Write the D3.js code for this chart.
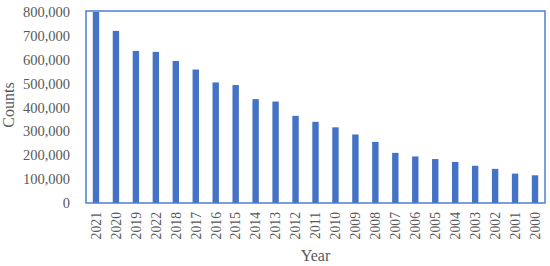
<!DOCTYPE html>
<html>
<head>
<meta charset="utf-8">
<script src="https://cdn.jsdelivr.net/npm/d3@7"></script>
<style>
    body { margin: 0; background: #fff; }
    text { font-family: "Liberation Serif", "Times New Roman", serif; fill: #595959; }
</style>
</head>
<body>
<div id="chart"></div>
<script>
// years in the order shown (sorted by count)
const years = ["2021", "2020", "2019", "2022", "2018", "2017", "2016", "2015", "2014", "2013", "2012",
    "2011", "2010", "2009", "2008", "2007", "2006", "2005", "2004", "2003", "2002", "2001", "2000"];
const counts = [800000, 721000, 637000, 633000, 595000, 559000, 505000, 494000, 435000, 425000, 365000,
    340000, 317000, 287000, 256000, 210000, 195000, 184000, 172000, 156000, 143000, 123000, 116000];
const yTicks = [0, 100000, 200000, 300000, 400000, 500000, 600000, 700000, 800000];

const width = 550, height = 266;
const margin = {top: 12, right: 5, bottom: 63, left: 86};

const svg = d3.select("#chart")
    .append("svg")
    .attr("width", width)
    .attr("height", height);

const x = d3.scaleBand()
    .domain(years)
    .range([margin.left, width - margin.right])
    .paddingInner(0.68)
    .paddingOuter(0.34);

const y = d3.scaleLinear()
    .domain([0, 800000])
    .range([height - margin.bottom, margin.top]);

// bars
svg.append("g")
    .selectAll("rect")
    .data(years)
    .enter()
    .append("rect")
    .attr("x", d => x(d))
    .attr("width", x.bandwidth())
    .attr("y", (d, i) => y(counts[i]))
    .attr("height", (d, i) => y(0) - y(counts[i]))
    .attr("fill", "#4472C4");

// frame: left, top, right and the baseline
svg.append("rect")
    .attr("x", margin.left)
    .attr("y", margin.top - 1)
    .attr("width", width - margin.left - margin.right)
    .attr("height", y(0) - margin.top + 1)
    .attr("fill", "none")
    .attr("stroke", "#4f7fcf")
    .attr("stroke-width", 1.5);

// y axis labels
const fmt = d3.format(",");
svg.append("g")
    .selectAll("text")
    .data(yTicks)
    .enter()
    .append("text")
    .attr("x", margin.left - 16)
    .attr("y", d => y(d))
    .attr("dy", "0.35em")
    .attr("text-anchor", "end")
    .style("font-size", "14.5px")
    .text(d => fmt(d));

// x axis labels (rotated)
svg.append("g")
    .selectAll("text")
    .data(years)
    .enter()
    .append("text")
    .attr("transform", d => `translate(${x(d) + x.bandwidth() / 2},${y(0) + 9}) rotate(-90)`)
    .attr("dy", "0.35em")
    .attr("text-anchor", "end")
    .style("font-size", "13.7px")
    .text(d => d);

// axis titles
svg.append("text")
    .attr("transform", "translate(14,105) rotate(-90)")
    .attr("text-anchor", "middle")
    .style("font-size", "16px")
    .text("Counts");

svg.append("text")
    .attr("x", (margin.left + width - margin.right) / 2)
    .attr("y", 261)
    .attr("text-anchor", "middle")
    .style("font-size", "16px")
    .text("Year");
</script>
</body>
</html>
